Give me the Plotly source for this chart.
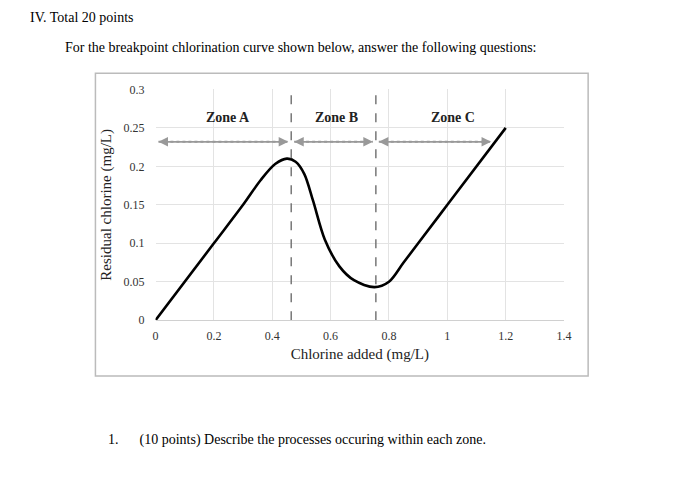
import plotly.graph_objects as go

# breakpoint chlorination curve
chlorine_added = [0, 0.2, 0.3, 0.36, 0.41, 0.45, 0.48, 0.51, 0.54, 0.58, 0.63, 0.68, 0.75, 0.8, 0.85, 0.9, 1.0, 1.2]
residual = [0, 0.1, 0.15, 0.182, 0.203, 0.21, 0.206, 0.19, 0.155, 0.105, 0.07, 0.052, 0.043, 0.05, 0.075, 0.1, 0.15, 0.25]

zone_bounds = [0.465, 0.755]
zone_names = ["Zone A", "Zone B", "Zone C"]
zone_centers = [0.25, 0.62, 1.02]
arrow_spans = [(0.01, 0.455), (0.475, 0.745), (0.765, 1.15)]
arrow_y = 0.232

serif = "Liberation Serif"

# the page shows the figure slightly shifted/scaled; map target pixels to paper
OX, SX, OY, SY = 12.7, 688.0, 15.5, 484.0


def px(p):
    return (p - OX) / SX


def py(p):
    return 1 - (p - OY) / SY


fig = go.Figure()

fig.add_trace(go.Scatter(
    x=chlorine_added, y=residual, mode="lines",
    line=dict(color="black", width=2.6, shape="spline", smoothing=0.9),
    showlegend=False,
))

for xb in zone_bounds:
    fig.add_trace(go.Scatter(
        x=[xb, xb], y=[0, 0.3], mode="lines",
        line=dict(color="#777777", width=1.5, dash="dash"),
        showlegend=False,
    ))

for (x0, x1) in arrow_spans:
    fig.add_trace(go.Scatter(
        x=[x0, x1], y=[arrow_y, arrow_y], mode="lines",
        line=dict(color="#999999", width=2, dash="dot"),
        showlegend=False,
    ))
    for xs, xe in [(x1, x0), (x0, x1)]:
        fig.add_annotation(
            x=xe, y=arrow_y, ax=xs, ay=arrow_y,
            xref="x", yref="y", axref="x", ayref="y",
            text="", showarrow=True, arrowhead=2, arrowsize=1.2,
            arrowwidth=1.6, arrowcolor="#999999", standoff=0,
        )

for name, xc in zip(zone_names, zone_centers):
    fig.add_annotation(x=xc, y=0.264, text="<b>%s</b>" % name, showarrow=False,
                       font=dict(family=serif, size=14, color="#222222"))

axis_font = dict(family=serif, size=12, color="#333333")
fig.update_xaxes(
    range=[0, 1.4], tickvals=[0, 0.2, 0.4, 0.6, 0.8, 1, 1.2, 1.4],
    ticktext=["0", "0.2", "0.4", "0.6", "0.8", "1", "1.2", "1.4"],
    showgrid=True, gridcolor="#e3e3e3", zeroline=False, showline=True,
    linecolor="#d0d0d0", tickfont=axis_font, ticklabelstandoff=4,
    domain=[px(157), px(565)],
    title=dict(text="Chlorine added (mg/L)", font=dict(family=serif, size=15, color="#222222"), standoff=6),
)
fig.update_yaxes(
    range=[0, 0.3], tickvals=[0, 0.05, 0.1, 0.15, 0.2, 0.25, 0.3],
    ticktext=["0", "0.05", "0.1", "0.15", "0.2", "0.25", "0.3"],
    showgrid=True, gridcolor="#e3e3e3", zeroline=False, showline=False,
    tickfont=axis_font, ticklabelstandoff=10,
    domain=[py(317), py(89)],
    title=dict(text="Residual chlorine (mg/L)", font=dict(family=serif, size=15, color="#222222"), standoff=8),
)

# chart border box
fig.add_shape(type="rect", xref="paper", yref="paper",
              x0=px(97), x1=px(589), y0=py(372), y1=py(73),
              line=dict(color="#bbbbbb", width=1.5))

page_font = dict(family=serif, size=14, color="black")
fig.add_annotation(x=px(30), y=py(18), xref="paper", yref="paper", xanchor="left", yanchor="middle",
                   text="IV. Total 20 points", showarrow=False, font=page_font)
fig.add_annotation(x=px(65), y=py(48), xref="paper", yref="paper", xanchor="left", yanchor="middle",
                   text="For the breakpoint chlorination curve shown below, answer the following questions:",
                   showarrow=False, font=page_font)
fig.add_annotation(x=px(108), y=py(435), xref="paper", yref="paper", xanchor="left", yanchor="middle",
                   text="1.      (10 points) Describe the processes occuring within each zone.",
                   showarrow=False, font=page_font)

fig.update_layout(
    width=700, height=504, margin=dict(l=0, r=0, t=0, b=0),
    plot_bgcolor="white", paper_bgcolor="white",
)

fig.write_html("out.html")
